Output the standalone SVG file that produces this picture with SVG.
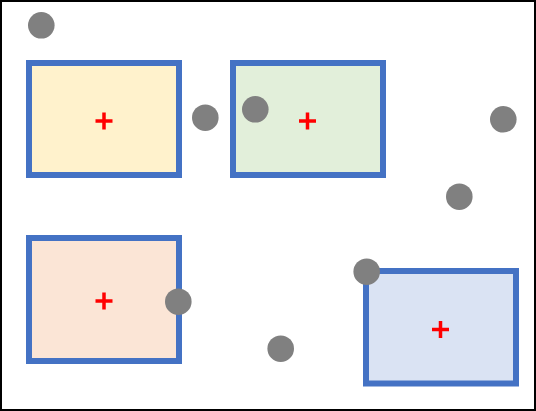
<svg xmlns="http://www.w3.org/2000/svg" width="536" height="411" viewBox="0 0 536 411">
<style>
.box{stroke:#4472C4;stroke-width:6}
.plus{stroke:#FF0000;stroke-width:3.5;fill:none}
.dot{fill:#808080}
</style>
<defs>
<path id="plus" d="M-8.5 0H8.5M0 -8.5V8.5"/>
</defs>
<rect x="1" y="1" width="534" height="409" fill="#FFFFFF" stroke="#000000" stroke-width="2"/>
<g id="box-yellow">
<rect class="box" x="29" y="63" width="150" height="112" fill="#FFF2CC"/>
<use href="#plus" class="plus" x="104" y="121"/>
</g>
<g id="box-green">
<rect class="box" x="233" y="63" width="150" height="112" fill="#E2EFDA"/>
<use href="#plus" class="plus" x="307.5" y="121"/>
</g>
<g id="box-orange">
<rect class="box" x="29" y="238" width="150" height="123" fill="#FBE5D6"/>
<use href="#plus" class="plus" x="104" y="301"/>
</g>
<g id="box-blue">
<rect class="box" x="366" y="271" width="150" height="112.5" fill="#DAE3F3"/>
<use href="#plus" class="plus" x="440.5" y="329.5"/>
</g>
<g id="dots">
<circle class="dot" cx="41.3" cy="25.3" r="13.3"/>
<circle class="dot" cx="205.3" cy="117.7" r="13.3"/>
<circle class="dot" cx="255.3" cy="109.3" r="13.3"/>
<circle class="dot" cx="503.3" cy="119.3" r="13.3"/>
<circle class="dot" cx="459.3" cy="196.7" r="13.3"/>
<circle class="dot" cx="178.3" cy="301.7" r="13.3"/>
<circle class="dot" cx="366.7" cy="271.7" r="13.3"/>
<circle class="dot" cx="280.7" cy="348.7" r="13.3"/>
</g>
<g id="connectors"/>
</svg>
